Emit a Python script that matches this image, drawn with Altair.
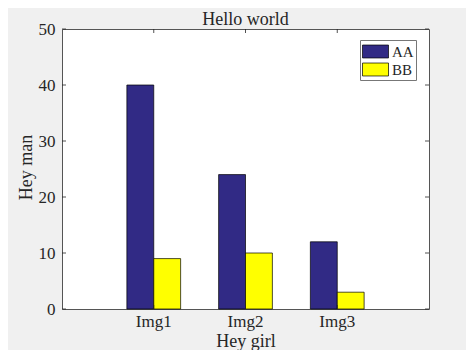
import altair as alt
import pandas as pd

categories = ["Img1", "Img2", "Img3"]
series = ["AA", "BB"]
aa_values = [40, 24, 12]
bb_values = [9, 10, 3]
y_ticks = [0, 10, 20, 30, 40, 50]
colors = ["#312a85", "#ffff00"]

rows = []
for c, a, b in zip(categories, aa_values, bb_values):
    rows.append({"cat": c, "series": "AA", "value": a})
    rows.append({"cat": c, "series": "BB", "value": b})
df = pd.DataFrame(rows)
cat_df = pd.DataFrame({"cat": categories})
ytick_df = pd.DataFrame({"v": y_ticks})

FONT = "Liberation Serif"
TXT = "#262626"
W, H = 367, 280

xscale = alt.Scale(domain=categories, paddingInner=0.414, paddingOuter=0.707)
yscale = alt.Scale(domain=[0, 50], nice=False)

bars = alt.Chart(df).mark_bar(stroke="black", strokeWidth=0.7).encode(
    x=alt.X("cat:N", scale=xscale, sort=categories,
            axis=alt.Axis(title="Hey girl", labelAngle=0, domain=False, ticks=False,
                          tickSize=0, labelPadding=4, labelFont=FONT, labelFontSize=17,
                          labelColor=TXT, titleFont=FONT, titleFontSize=18,
                          titleFontWeight="normal", titleColor=TXT, titleY=37,
                          titleBaseline="alphabetic")),
    xOffset=alt.XOffset("series:N", scale=alt.Scale(domain=series, paddingInner=0, paddingOuter=0)),
    y=alt.Y("value:Q", scale=yscale,
            axis=alt.Axis(title="Hey man", values=y_ticks, domain=False, ticks=False,
                          tickSize=0, labelPadding=7, labelFont=FONT, labelFontSize=17,
                          labelColor=TXT, grid=False, titleFont=FONT, titleFontSize=18,
                          titleFontWeight="normal", titleColor=TXT, titleAngle=-90,
                          titleX=-31, titleY=138, titleAlign="center",
                          titleBaseline="alphabetic")),
    color=alt.Color("series:N", scale=alt.Scale(domain=series, range=colors),
                    legend=alt.Legend(title=None, orient="none", legendX=298, legendY=11,
                                      fillColor="white", strokeColor="#777777",
                                      padding=2, rowPadding=0,
                                      symbolType="M-1,-0.72H1.89V0.72H-1Z", symbolSize=324,
                                      symbolStrokeColor="black", symbolStrokeWidth=0.7,
                                      symbolOpacity=1,
                                      labelFont=FONT, labelFontSize=15, labelColor=TXT,
                                      labelOffset=11)),
)

tick_color = "#262626"
xt_bottom = alt.Chart(cat_df).mark_rule(color=tick_color, strokeWidth=0.8).encode(
    x=alt.X("cat:N", scale=xscale, bandPosition=0.5), y=alt.value(H), y2=alt.value(H - 4))
xt_top = alt.Chart(cat_df).mark_rule(color=tick_color, strokeWidth=0.8).encode(
    x=alt.X("cat:N", scale=xscale, bandPosition=0.5), y=alt.value(0), y2=alt.value(4))
yt_left = alt.Chart(ytick_df).mark_rule(color=tick_color, strokeWidth=0.8).encode(
    y=alt.Y("v:Q", scale=yscale), x=alt.value(0), x2=alt.value(4))
yt_right = alt.Chart(ytick_df).mark_rule(color=tick_color, strokeWidth=0.8).encode(
    y=alt.Y("v:Q", scale=yscale), x=alt.value(W), x2=alt.value(W - 4))

chart = alt.layer(bars, xt_bottom, xt_top, yt_left, yt_right).properties(
    width=W, height=H,
    title=alt.TitleParams("Hello world", font=FONT, fontSize=18, fontWeight="normal",
                          color=TXT, anchor="middle", baseline="alphabetic", offset=0, dy=23),
    autosize=alt.AutoSizeParams(type="none"),
    padding={"left": 54, "top": 21, "right": 37, "bottom": 41},
    background="#f0f0f0",
).configure_view(stroke="#555555", strokeWidth=1, fill="white")

chart.save("out.html", embed_options={"renderer": "svg", "actions": False})
